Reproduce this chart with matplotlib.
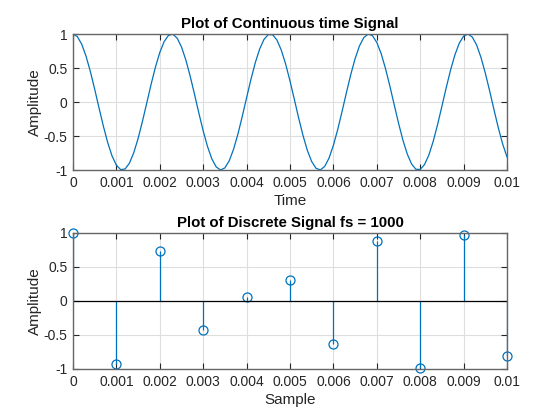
import numpy as np
import matplotlib
matplotlib.use('Agg')
import matplotlib.pyplot as plt

plt.rcParams['font.family'] = ['Liberation Sans', 'DejaVu Sans']

# continuous signal, read every 0.1 ms
t_cont = [k * 1e-4 for k in range(101)]
x_cont = [1.000, 0.962, 0.851, 0.675, 0.448, 0.187, -0.088, -0.356, -0.598, -0.794,
          -0.930, -0.995, -0.985, -0.900, -0.746, -0.536, -0.285, -0.013, 0.261, 0.514,
          0.729, 0.888, 0.980, 0.997, 0.939, 0.809, 0.618, 0.380, 0.113, -0.163,
          -0.426, -0.656, -0.838, -0.955, -1.000, -0.969, -0.864, -0.694, -0.471, -0.212,
          0.063, 0.333, 0.578, 0.778, 0.920, 0.992, 0.989, 0.910, 0.762, 0.557,
          0.309, 0.038, -0.237, -0.493, -0.712, -0.876, -0.975, -0.999, -0.947, -0.824,
          -0.637, -0.403, -0.138, 0.138, 0.403, 0.637, 0.824, 0.947, 0.999, 0.975,
          0.876, 0.712, 0.493, 0.237, -0.038, -0.309, -0.557, -0.762, -0.910, -0.989,
          -0.992, -0.920, -0.778, -0.578, -0.333, -0.063, 0.212, 0.471, 0.694, 0.864,
          0.969, 1.000, 0.955, 0.838, 0.656, 0.426, 0.163, -0.113, -0.380, -0.618,
          -0.809]

# discrete samples, fs = 1000
t_disc = [0.0, 0.001, 0.002, 0.003, 0.004, 0.005, 0.006, 0.007, 0.008, 0.009, 0.01]
x_disc = [1.0, -0.93, 0.729, -0.426, 0.063, 0.309, -0.637, 0.876, -0.992, 0.969, -0.809]

xticks = [0, 0.001, 0.002, 0.003, 0.004, 0.005, 0.006, 0.007, 0.008, 0.009, 0.01]
xticklabels = ['0', '0.001', '0.002', '0.003', '0.004', '0.005', '0.006', '0.007',
               '0.008', '0.009', '0.01']
yticks_top = [-1, -0.5, 0, 0.5, 1]
ytick_labels = ['-1', '-0.5', '0', '0.5', '1']

blue = (0, 0.447, 0.741)
text_c = (0.15, 0.15, 0.15)
edge = (0.4, 0.4, 0.4)

fig = plt.figure(figsize=(5.6, 4.2), dpi=100)
W, H = 560, 420
ax1 = fig.add_axes([73 / W, 1 - 170 / H, 434 / W, 136 / H])
ax2 = fig.add_axes([73 / W, 1 - 369 / H, 434 / W, 136 / H])


def style(ax):
    ax.set_xlim(0, 0.01)
    ax.set_ylim(-1, 1)
    ax.set_xticks(xticks)
    ax.set_xticklabels(xticklabels)
    ax.set_yticks(yticks_top)
    ax.set_yticklabels(ytick_labels)
    ax.grid(True, color=(0.87, 0.87, 0.87), linewidth=0.8)
    ax.set_axisbelow(True)
    ax.tick_params(direction='in', length=4, width=0.8, top=True, right=True,
                   colors=text_c, labelsize=10, labelcolor=text_c, pad=4)
    for s in ax.spines.values():
        s.set_color(edge)
        s.set_linewidth(1.0)


ax1.plot(t_cont, x_cont, color=blue, linewidth=0.9)
style(ax1)
ax1.set_title('Plot of Continuous time Signal', fontsize=10.8, fontweight='bold', pad=4)
ax1.set_xlabel('Time', fontsize=11, color=text_c, labelpad=3)
ax1.set_ylabel('Amplitude', fontsize=11, color=text_c, labelpad=1)

ml, sl, bl = ax2.stem(t_disc, x_disc, basefmt='k-')
plt.setp(sl, color=blue, linewidth=0.9)
plt.setp(ml, markerfacecolor='none', markeredgecolor=blue, markersize=6.5,
         markeredgewidth=0.9, clip_on=False)
plt.setp(bl, color='k', linewidth=0.9)
bl.set_xdata([0, 0.01])
style(ax2)
ax2.set_title('Plot of Discrete Signal fs = 1000', fontsize=10.8, fontweight='bold', pad=4)
ax2.set_xlabel('Sample', fontsize=11, color=text_c, labelpad=3)
ax2.set_ylabel('Amplitude', fontsize=11, color=text_c, labelpad=1)

fig.savefig('out.png', dpi=100)
